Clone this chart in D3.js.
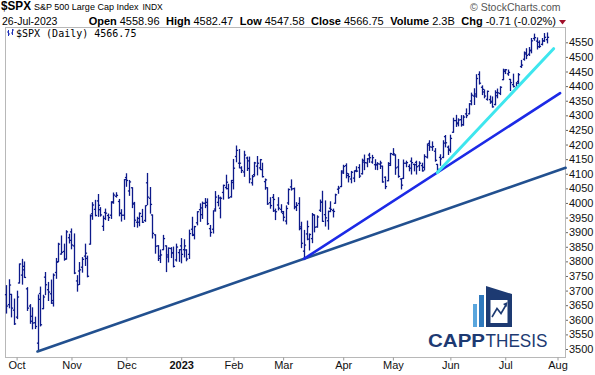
<!DOCTYPE html>
<html>
<head>
<meta charset="utf-8">
<script src="https://cdn.jsdelivr.net/npm/d3@7"></script>
<style>
  body { margin: 0; background: #fff; }
  svg { display: block; font-family: "Liberation Sans", Arial, sans-serif; }
</style>
</head>
<body>
<svg id="chart" width="595" height="375"></svg>
<script>
// trading calendar: weekdays from firstDay to lastDay, minus market holidays
const firstDay = '2022-09-27';
const lastDay = '2023-08-01';
const holidays = ['2022-11-24', '2022-12-26', '2023-01-02', '2023-01-16', '2023-02-20',
  '2023-04-07', '2023-05-29', '2023-06-19', '2023-07-04'];

// daily OHLC, Sep 27 2022 .. Jul 26 2023 (one line per month)
const opens = [
  3686, 3652, 3687, 3633,
  3609, 3726, 3753, 3771, 3706, 3647, 3595, 3590, 3520, 3690, 3638, 3746, 3703, 3689, 3657, 3762, 3799, 3825, 3834, 3808, 3881,
  3901, 3853, 3733, 3767, 3780, 3818, 3810, 3859, 3963, 3978, 4007, 3977, 3920, 3967, 3957, 3958, 4001, 4023, 4005, 3965, 3958,
  4087, 4041, 4052, 3996, 3934, 3947, 3954, 3940, 4069, 4016, 3959, 3891, 3853, 3810, 3840, 3853, 3815, 3844, 3829, 3805, 3830,
  3853, 3840, 3839, 3824, 3910, 3889, 3932, 3977, 3960, 3999, 4002, 3912, 3910, 3979, 4002, 3982, 4036, 4053, 4049, 4021,
  4070, 4159, 4136, 4120, 4106, 4154, 4144, 4069, 4097, 4126, 4120, 4114, 4073, 4052, 4001, 4019, 3973, 3993, 3978,
  3964, 3938, 4000, 4055, 4049, 3987, 3998, 3912, 3835, 3894, 3876, 3878, 3959, 3918, 3975, 4002, 3960, 3939, 3982, 3974, 3999, 4047, 4056,
  4103, 4128, 4094, 4082, 4085, 4111, 4121, 4100, 4140, 4137, 4164, 4140, 4131, 4132, 4133, 4126, 4088, 4076, 4129,
  4166, 4164, 4123, 4082, 4084, 4136, 4125, 4143, 4132, 4139, 4127, 4128, 4122, 4157, 4204, 4191, 4177, 4132, 4156, 4156, 4227, 4191,
  4184, 4242, 4282, 4271, 4285, 4268, 4305, 4305, 4349, 4366, 4366, 4440, 4396, 4380, 4355, 4354, 4345, 4337, 4367, 4375, 4422,
  4455, 4442, 4423, 4405, 4394, 4416, 4467, 4492, 4514, 4509, 4521, 4563, 4554, 4550, 4543, 4555, 4559
];
const highs = [
  3717, 3737, 3687, 3671,
  3698, 3791, 3807, 3798, 3710, 3652, 3641, 3609, 3685, 3712, 3684, 3762, 3728, 3736, 3757, 3810, 3862, 3887, 3859, 3905, 3893,
  3911, 3894, 3751, 3796, 3813, 3859, 3818, 3959, 4001, 4009, 4029, 3984, 3955, 3979, 3962, 4004, 4034, 4035, 4012, 3977, 4080,
  4100, 4077, 4052, 4002, 3951, 3966, 3978, 3990, 4101, 4053, 3959, 3891, 3854, 3839, 3889, 3853, 3846, 3847, 3849, 3859, 3840,
  3878, 3874, 3840, 3907, 3951, 3920, 3970, 3997, 4003, 4015, 4014, 3923, 3973, 4039, 4026, 4020, 4061, 4095, 4064, 4077,
  4149, 4195, 4183, 4124, 4177, 4157, 4157, 4094, 4139, 4159, 4149, 4136, 4082, 4052, 4018, 4029, 3979, 4018, 3994,
  3971, 3990, 4048, 4079, 4051, 4001, 4018, 3934, 3906, 3938, 3894, 3964, 3959, 3956, 4010, 4040, 4007, 3972, 4004, 3979, 4030, 4057, 4110,
  4129, 4134, 4100, 4108, 4110, 4124, 4131, 4150, 4164, 4152, 4170, 4163, 4148, 4138, 4143, 4126, 4089, 4138, 4170,
  4186, 4165, 4149, 4083, 4147, 4143, 4131, 4154, 4133, 4143, 4141, 4136, 4165, 4202, 4213, 4209, 4186, 4132, 4165, 4213, 4231, 4195,
  4232, 4290, 4300, 4288, 4299, 4299, 4322, 4340, 4376, 4391, 4439, 4449, 4401, 4387, 4383, 4366, 4363, 4384, 4390, 4398, 4458,
  4457, 4455, 4423, 4441, 4412, 4443, 4488, 4517, 4528, 4532, 4563, 4578, 4565, 4555, 4563, 4580, 4582
];
const lows = [
  3623, 3641, 3610, 3584,
  3604, 3726, 3722, 3745, 3632, 3588, 3569, 3570, 3492, 3579, 3638, 3686, 3666, 3656, 3647, 3742, 3799, 3825, 3804, 3808, 3863,
  3843, 3758, 3698, 3721, 3763, 3786, 3747, 3859, 3944, 3956, 3954, 3955, 3906, 3943, 3940, 3947, 3999, 4020, 3956, 3938, 3944,
  4057, 4026, 3984, 3919, 3917, 3922, 3933, 3937, 3994, 3965, 3880, 3828, 3803, 3796, 3840, 3765, 3798, 3813, 3781, 3801, 3800,
  3795, 3815, 3802, 3810, 3888, 3877, 3925, 3937, 3947, 3984, 3926, 3886, 3897, 3972, 3990, 3949, 4013, 4048, 4016, 4020,
  4048, 4141, 4120, 4104, 4091, 4111, 4069, 4061, 4092, 4096, 4114, 4089, 4047, 3995, 3982, 3971, 3943, 3976, 3968,
  3939, 3928, 3995, 4044, 3980, 3974, 3908, 3847, 3809, 3874, 3839, 3864, 3901, 3917, 3971, 3937, 3921, 3910, 3970, 3952, 3999, 4033, 4056,
  4101, 4086, 4072, 4069, 4073, 4107, 4087, 4099, 4114, 4124, 4139, 4136, 4115, 4114, 4118, 4071, 4049, 4076, 4128,
  4164, 4098, 4088, 4048, 4084, 4124, 4110, 4099, 4110, 4099, 4111, 4109, 4113, 4154, 4180, 4180, 4143, 4104, 4129, 4155, 4192, 4166,
  4174, 4242, 4262, 4264, 4263, 4266, 4292, 4305, 4336, 4337, 4362, 4407, 4371, 4360, 4352, 4341, 4328, 4336, 4360, 4371, 4422,
  4443, 4437, 4385, 4397, 4390, 4408, 4464, 4489, 4494, 4505, 4514, 4557, 4527, 4532, 4541, 4553, 4548
];
const closes = [
  3647, 3719, 3640, 3586,
  3678, 3791, 3783, 3745, 3640, 3612, 3589, 3577, 3670, 3583, 3678, 3720, 3695, 3666, 3753, 3797, 3859, 3831, 3807, 3901, 3872,
  3856, 3760, 3720, 3771, 3807, 3828, 3749, 3956, 3993, 3957, 3992, 3959, 3947, 3965, 3950, 4004, 4027, 4026, 3964, 3958, 4080,
  4077, 4072, 3999, 3941, 3934, 3964, 3934, 3991, 4020, 3995, 3896, 3852, 3818, 3822, 3878, 3822, 3845, 3829, 3783, 3849, 3840,
  3824, 3853, 3808, 3895, 3892, 3919, 3970, 3983, 3999, 3991, 3929, 3899, 3973, 4020, 4017, 4016, 4060, 4071, 4018, 4077,
  4119, 4180, 4136, 4111, 4164, 4118, 4082, 4090, 4137, 4136, 4148, 4090, 4079, 3997, 3991, 4012, 3970, 3982, 3970,
  3951, 3981, 4046, 4048, 3986, 3992, 3918, 3862, 3856, 3919, 3892, 3960, 3917, 3952, 4003, 3937, 3949, 3971, 3978, 3971, 4028, 4051, 4109,
  4125, 4101, 4090, 4105, 4109, 4109, 4092, 4146, 4138, 4151, 4155, 4155, 4130, 4134, 4137, 4072, 4056, 4135, 4169,
  4168, 4120, 4091, 4061, 4136, 4138, 4119, 4138, 4131, 4124, 4136, 4110, 4159, 4198, 4192, 4193, 4146, 4115, 4151, 4205, 4206, 4180,
  4221, 4282, 4274, 4284, 4268, 4294, 4299, 4339, 4369, 4373, 4426, 4410, 4389, 4366, 4382, 4348, 4329, 4378, 4377, 4396, 4450,
  4456, 4447, 4412, 4399, 4410, 4439, 4472, 4510, 4505, 4523, 4555, 4566, 4535, 4536, 4555, 4567, 4567
];

const monthLabels = ['Oct', 'Nov', 'Dec', '2023', 'Feb', 'Mar', 'Apr', 'May', 'Jun', 'Jul', 'Aug'];
const yTicks = [3500, 3550, 3600, 3650, 3700, 3750, 3800, 3850, 3900, 3950, 4000, 4050,
  4100, 4150, 4200, 4250, 4300, 4350, 4400, 4450, 4500, 4550];

// trend lines: two anchor points [date, value], then extended to a bar index
const trendLines = [
  { a: ['2022-10-13', 3491.58], b: ['2023-03-13', 3808.86], endIdx: 214.1, color: '#22508f', w: 2.6 },
  { a: ['2023-03-13', 3808.86], b: ['2023-05-24', 4103.98], endIdx: 212, color: '#1c2ae6', w: 2.6 },
  { a: ['2023-05-24', 4103.98], b: ['2023-07-10', 4389.92], endIdx: 209.5, color: '#3ee6ee', w: 3 }
];

const header = {
  date: '26-Jul-2023',
  fields: [['Open', '4558.96'], ['High', '4582.47'], ['Low', '4547.58'], ['Close', '4566.75'],
    ['Volume', '2.3B'], ['Chg', '-0.71 (-0.02%)']]
};

// ---- build calendar
const fmt = d3.timeFormat('%Y-%m-%d');
const days = d3.timeDay.range(d3.timeParse('%Y-%m-%d')(firstDay),
  d3.timeDay.offset(d3.timeParse('%Y-%m-%d')(lastDay), 1))
  .filter(d => d.getDay() !== 0 && d.getDay() !== 6 && !holidays.includes(fmt(d)));
const idxOf = s => days.findIndex(d => fmt(d) === s);

const bars = closes.map((c, i) => ({ i, o: opens[i], h: highs[i], l: lows[i], c }));

const svg = d3.select('#chart');
const plot = { l: 5.5, t: 27.5, r: 565.5, b: 357.5 };

const x = d3.scaleLinear().domain([0, days.length - 1]).range([6.15, 557.5]);
const y = d3.scaleLinear().domain([3500, 4550]).range([349, 42.3]);

// frame
svg.append('rect')
  .attr('x', plot.l).attr('y', plot.t)
  .attr('width', plot.r - plot.l).attr('height', plot.b - plot.t)
  .attr('fill', 'none').attr('stroke', '#b8b8b8');

// ---- logo
const logo = svg.append('g').attr('class', 'logo');
logo.append('rect').attr('x', 473).attr('y', 304).attr('width', 4).attr('height', 23).attr('fill', '#5aa6dd');
logo.append('rect').attr('x', 479).attr('y', 295).attr('width', 5).attr('height', 32).attr('fill', '#2f79bd');
logo.append('path')
  .attr('d', 'M486,286 L512,294 L512,327 L486,327 Z M490.5,300 L490.5,323 L507.5,323 L507.5,300 Z')
  .attr('fill', '#1d3a72').attr('fill-rule', 'evenodd');
logo.append('path')
  .attr('d', 'M492,317 L497,308.5 L501,313.5 L506,305')
  .attr('fill', 'none').attr('stroke', '#1d3a72').attr('stroke-width', 1.6);
logo.append('path').attr('d', 'M503,304 L507.5,302 L506.5,307 Z').attr('fill', '#1d3a72');
logo.append('text').attr('x', 428).attr('y', 347)
  .attr('font-size', 18.5).attr('font-weight', 'bold').attr('fill', '#1d3a72')
  .attr('textLength', 57).attr('lengthAdjust', 'spacingAndGlyphs').text('CAPP');
logo.append('text').attr('x', 485.5).attr('y', 347)
  .attr('font-size', 18.5).attr('fill', '#1d3a72')
  .attr('textLength', 62).attr('lengthAdjust', 'spacingAndGlyphs').text('THESIS');

// ---- OHLC bars
const barColor = '#0d1a8a';
const bg = svg.append('g').attr('stroke', barColor).attr('stroke-width', 1.3);
const px = d => Math.round(x(d.i)) + 0.5;
bg.selectAll('line.hl').data(bars).join('line').attr('class', 'hl')
  .attr('x1', px).attr('x2', px)
  .attr('y1', d => y(d.h) - 0.5).attr('y2', d => y(d.l) + 0.5);
bg.selectAll('line.op').data(bars).join('line').attr('class', 'op')
  .attr('x1', d => px(d) - 1.6).attr('x2', px)
  .attr('y1', d => y(d.o)).attr('y2', d => y(d.o));
bg.selectAll('line.cl').data(bars).join('line').attr('class', 'cl')
  .attr('x1', px).attr('x2', d => px(d) + 1.6)
  .attr('y1', d => y(d.c)).attr('y2', d => y(d.c));

// ---- trend lines
svg.append('g').selectAll('line').data(trendLines).join('line')
  .each(function (t) {
    const ia = idxOf(t.a[0]), ib = idxOf(t.b[0]);
    const slope = (t.b[1] - t.a[1]) / (ib - ia);
    d3.select(this)
      .attr('x1', x(ia)).attr('y1', y(t.a[1]))
      .attr('x2', x(t.endIdx)).attr('y2', y(t.a[1] + slope * (t.endIdx - ia)));
  })
  .attr('stroke', t => t.color).attr('stroke-width', t => t.w).attr('stroke-linecap', 'round');

// ---- axes
const yAxis = d3.axisRight(y).tickValues(yTicks).tickSize(2).tickPadding(1).tickFormat(d3.format('d'));
const ya = svg.append('g').attr('transform', `translate(${plot.r + 0.5},0)`).call(yAxis);
ya.select('.domain').remove();
ya.selectAll('line').attr('stroke', '#666');
ya.selectAll('text').attr('font-size', 11).attr('fill', '#111')
  .attr('font-family', '"Liberation Sans", Arial, sans-serif');

const monthIdx = days.map((d, i) => i).filter(i => i > 0 && days[i].getMonth() !== days[i - 1].getMonth());
const xAxis = d3.axisBottom(x).tickValues(monthIdx).tickSize(3).tickPadding(1)
  .tickFormat((d, k) => monthLabels[k]);
const xa = svg.append('g').attr('transform', `translate(0,${plot.b})`).call(xAxis);
xa.select('.domain').remove();
xa.selectAll('line').attr('stroke', '#999');
xa.selectAll('text').attr('font-size', 11).attr('fill', '#111')
  .attr('font-family', '"Liberation Sans", Arial, sans-serif')
  .attr('font-weight', (d, k) => monthLabels[k] === '2023' ? 'bold' : null);

// ---- header
svg.append('text').attr('x', 1).attr('y', 10)
  .attr('font-size', 12.5).attr('font-weight', 'bold').attr('fill', '#000')
  .attr('textLength', 30).attr('lengthAdjust', 'spacingAndGlyphs').text('$SPX');
const title = svg.append('text').attr('x', 34).attr('y', 10).attr('font-size', 9).attr('fill', '#000');
title.append('tspan').text('S&P 500 Large Cap Index');
title.append('tspan').attr('dx', 4).attr('font-size', 8.5).text('INDX');
svg.append('text').attr('x', 470).attr('y', 11).attr('font-size', 10.5).attr('fill', '#555')
  .text('\u00a9 StockCharts.com');
svg.append('text').attr('x', 2).attr('y', 25).attr('font-size', 10.5).attr('fill', '#000')
  .text(header.date);

const hl = svg.append('text').attr('x', 556).attr('y', 25).attr('text-anchor', 'end')
  .attr('font-size', 11).attr('fill', '#000');
header.fields.forEach(([k, v], n) => {
  hl.append('tspan').attr('font-weight', 'bold').attr('dx', n ? 6.5 : 0).text(k);
  hl.append('tspan').attr('dx', 3).text(v);
});
svg.append('path').attr('d', 'M559,20 L566,20 L562.5,24.5 Z').attr('fill', '#a0102a');

// legend inside plot
const lg = svg.append('g');
lg.append('path').attr('d', 'M8.5,30 V36 M7,32 H8.5 M8.5,34 H10 M12.5,29 V35 M11,33 H12.5 M12.5,30 H14')
  .attr('stroke', '#2233bb').attr('stroke-width', 1).attr('fill', 'none');
lg.append('text').attr('x', 16).attr('y', 37)
  .attr('font-family', '"DejaVu Sans Mono", monospace').attr('font-size', 10).attr('fill', '#000')
  .text('$SPX (Daily) 4566.75');
</script>
</body>
</html>
